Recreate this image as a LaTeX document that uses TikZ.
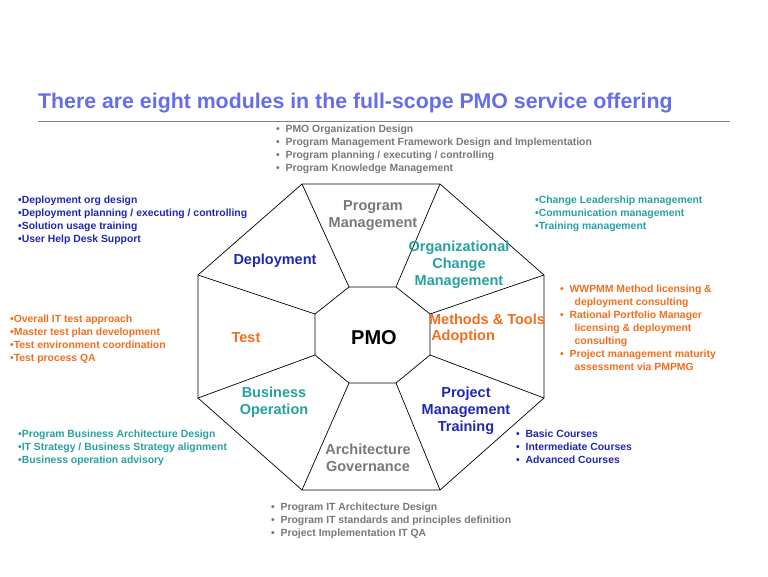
\documentclass[tikz,border=0pt]{standalone}
\usepackage{fontspec}
\setmainfont{Liberation Sans}
\definecolor{tblue}{RGB}{100,110,235}
\definecolor{dblue}{RGB}{30,40,175}
\definecolor{teal2}{RGB}{40,160,160}
\definecolor{org}{RGB}{240,110,30}
\definecolor{gry}{RGB}{120,120,120}
\begin{document}
\begin{tikzpicture}[x=1pt,y=-1pt,
  lab/.style={font=\bfseries\fontsize{14.5}{17}\selectfont,align=center},
  lst/.style={font=\bfseries\fontsize{10.4}{13}\selectfont,align=left,anchor=north west,inner sep=0pt}]
\useasboundingbox (0,0) rectangle (768,576);
\node[anchor=west,text=tblue,font=\bfseries\fontsize{21.3}{23}\selectfont,inner sep=0pt] (title) at (38,103) {There are eight modules in the full-scope PMO service offering};
\coordinate (l1) at (38,121); \coordinate (l2) at (730,121);
\draw[gray,line width=0.6pt] (l1) -- (l2);
% outer
\coordinate (o1) at (302,184); \coordinate (o2) at (440,184);
\coordinate (o3) at (544,275); \coordinate (o4) at (544,398);
\coordinate (o5) at (440,490); \coordinate (o6) at (302,490);
\coordinate (o7) at (198,398); \coordinate (o8) at (198,275);
\coordinate (i1) at (349,287); \coordinate (i2) at (396,287);
\coordinate (i3) at (430,314); \coordinate (i4) at (430,355);
\coordinate (i5) at (396,383); \coordinate (i6) at (349,383);
\coordinate (i7) at (315,355); \coordinate (i8) at (315,314);
\draw[line width=0.7pt] (o1)--(o2)--(o3)--(o4)--(o5)--(o6)--(o7)--(o8)--cycle;
\draw[line width=0.7pt] (i1)--(i2)--(i3)--(i4)--(i5)--(i6)--(i7)--(i8)--cycle;
\foreach \k in {1,...,8} \draw[line width=0.7pt] (o\k)--(i\k);
\node[font=\bfseries\fontsize{20}{22}\selectfont] (pmo) at (374,338) {PMO};
\node[lab,text=gry] (pm) at (373,216) {Program\\Management};
\node[lab,text=teal2] (ocm) at (459,265) {Organizational\\Change\\Management};
\node[lab,text=org] (mt) at (487,329) {Methods \& Tools\\[-1pt]\hspace*{-3.3em}Adoption};
\node[lab,text=dblue] (pmt) at (466,411) {Project\\Management\\Training};
\node[lab,text=gry] (ag) at (368,458) {Architecture\\Governance};
\node[lab,text=teal2] (bo) at (274,402) {Business\\Operation};
\node[lab,text=org] (test) at (246,338) {Test};
\node[lab,text=dblue] (dep) at (275,261) {Deployment};
\node[lst,text=gry] (t1) at (276,125) {•\ \ PMO Organization Design\\•\ \ Program Management Framework Design and Implementation\\•\ \ Program planning / executing / controlling\\•\ \ Program Knowledge Management};
\node[lst,text=dblue] (t2) at (18,196) {•Deployment org design\\•Deployment planning / executing / controlling\\•Solution usage training\\•User Help Desk Support};
\node[lst,text=teal2] (t3) at (535,196) {•Change Leadership management\\•Communication management\\•Training management};
\node[lst,text=org] (t4) at (560,285) {•\ \ WWPMM Method licensing \&\\\ \ \ \ \ deployment consulting\\•\ \ Rational Portfolio Manager\\\ \ \ \ \ licensing \& deployment\\\ \ \ \ \ consulting\\•\ \ Project management maturity\\\ \ \ \ \ assessment via PMPMG};
\node[lst,text=org] (t5) at (10,315) {•Overall IT test approach\\•Master test plan development\\•Test environment coordination\\•Test process QA};
\node[lst,text=teal2] (t6) at (18,430) {•Program Business Architecture Design\\•IT Strategy / Business Strategy alignment\\•Business operation advisory};
\node[lst,text=dblue] (t7) at (516,430) {•\ \ Basic Courses\\•\ \ Intermediate Courses\\•\ \ Advanced Courses};
\node[lst,text=gry] (t8) at (271,503) {•\ \ Program IT Architecture Design\\•\ \ Program IT standards and principles definition\\•\ \ Project Implementation IT QA};
\end{tikzpicture}
\end{document}
